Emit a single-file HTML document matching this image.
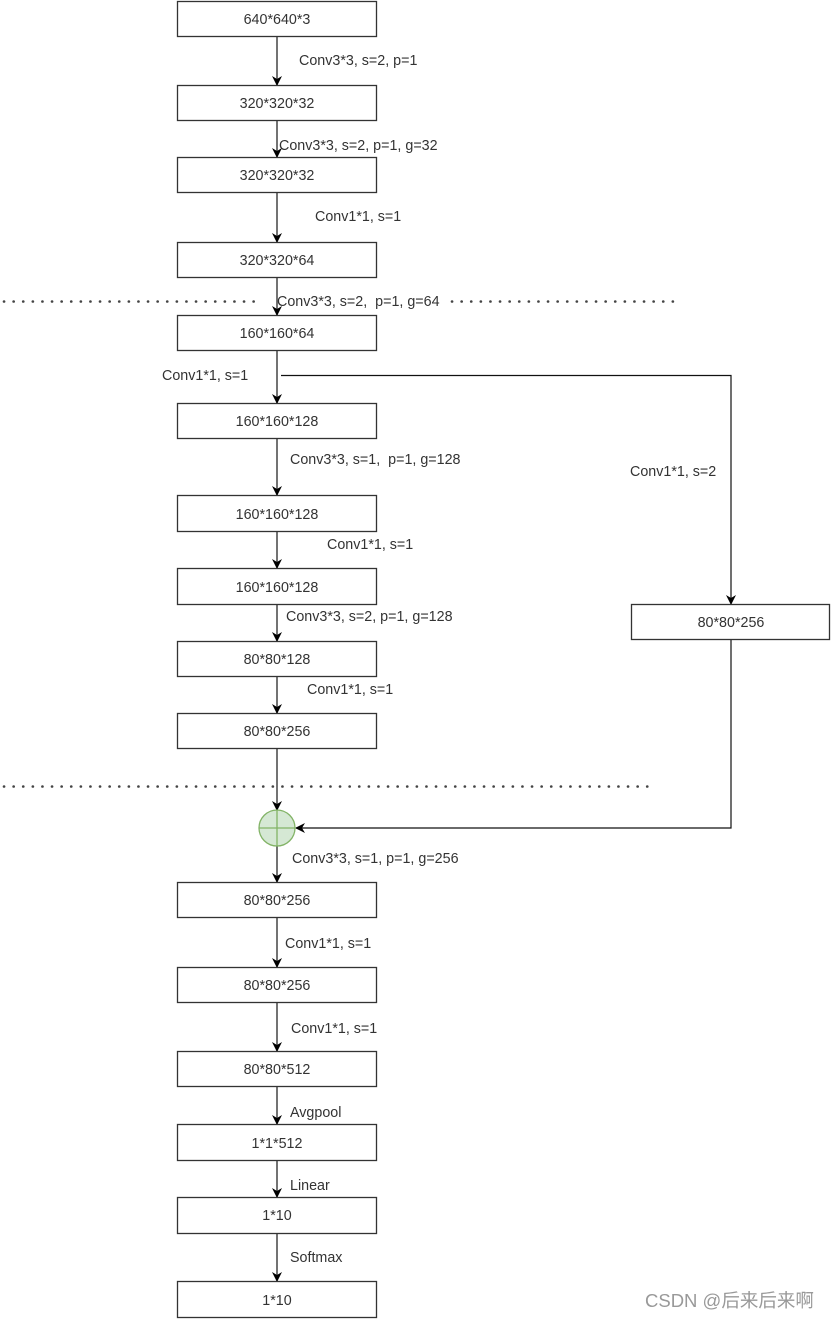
<!DOCTYPE html>
<html><head><meta charset="utf-8"><style>
html,body{margin:0;padding:0;background:#fff;}
svg{display:block;}
text{font-family:"Liberation Sans",Arial,sans-serif;font-size:14.3px;fill:#333;}
</style></head><body>
<svg width="831" height="1319" viewBox="0 0 831 1319" xmlns="http://www.w3.org/2000/svg">
<defs>
<marker id="a" markerWidth="10" markerHeight="10" refX="9" refY="5" orient="auto" markerUnits="userSpaceOnUse">
<path d="M0,0 L10,5 L0,10 L3,5 Z" fill="#000"/>
</marker>
</defs>
<g stroke="#444" stroke-width="2.6" stroke-linecap="round" stroke-dasharray="0.1 9.5" fill="none">
<line x1="4" y1="301.5" x2="262" y2="301.5"/>
<line x1="452" y1="301.5" x2="675" y2="301.5"/>
<line x1="4" y1="786.5" x2="655" y2="786.5"/>
</g>
<g stroke="#444" stroke-width="1.5" fill="none" marker-end="url(#a)">
<line x1="277" y1="37" x2="277" y2="85"/>
<line x1="277" y1="121" x2="277" y2="157"/>
<line x1="277" y1="193" x2="277" y2="242"/>
<line x1="277" y1="278" x2="277" y2="315"/>
<line x1="277" y1="351" x2="277" y2="403"/>
<line x1="277" y1="439" x2="277" y2="495"/>
<line x1="277" y1="532" x2="277" y2="568"/>
<line x1="277" y1="605" x2="277" y2="641"/>
<line x1="277" y1="677" x2="277" y2="713"/>
<line x1="277" y1="749" x2="277" y2="810"/>
<line x1="277" y1="846" x2="277" y2="882"/>
<line x1="277" y1="918" x2="277" y2="967"/>
<line x1="277" y1="1003" x2="277" y2="1051"/>
<line x1="277" y1="1087" x2="277" y2="1124"/>
<line x1="277" y1="1161" x2="277" y2="1197"/>
<line x1="277" y1="1234" x2="277" y2="1281"/>
<polyline points="281,375.5 731,375.5 731,604" stroke="#111" stroke-width="1.2"/>
<polyline points="731,640 731,828 296,828" stroke="#111" stroke-width="1.2"/>
</g>
<circle cx="277" cy="828" r="18" fill="#d5e8d4" stroke="#82b366" stroke-width="1.3"/>
<line x1="259" y1="828" x2="295" y2="828" stroke="#82b366" stroke-width="1.3"/>
<line x1="277" y1="810" x2="277" y2="846" stroke="#82b366" stroke-width="1.3"/>
<g fill="#fff" stroke="#333" stroke-width="1.3">
<rect x="177.5" y="1.5" width="199" height="35"/>
<rect x="177.5" y="85.5" width="199" height="35"/>
<rect x="177.5" y="157.5" width="199" height="35"/>
<rect x="177.5" y="242.5" width="199" height="35"/>
<rect x="177.5" y="315.5" width="199" height="35"/>
<rect x="177.5" y="403.5" width="199" height="35"/>
<rect x="177.5" y="495.5" width="199" height="36"/>
<rect x="177.5" y="568.5" width="199" height="36"/>
<rect x="177.5" y="641.5" width="199" height="35"/>
<rect x="177.5" y="713.5" width="199" height="35"/>
<rect x="177.5" y="882.5" width="199" height="35"/>
<rect x="177.5" y="967.5" width="199" height="35"/>
<rect x="177.5" y="1051.5" width="199" height="35"/>
<rect x="177.5" y="1124.5" width="199" height="36"/>
<rect x="177.5" y="1197.5" width="199" height="36"/>
<rect x="177.5" y="1281.5" width="199" height="36"/>
<rect x="631.5" y="604.5" width="198" height="35"/>
</g>
<g text-anchor="middle">
<text x="277" y="24">640*640*3</text>
<text x="277" y="108">320*320*32</text>
<text x="277" y="180">320*320*32</text>
<text x="277" y="265">320*320*64</text>
<text x="277" y="338">160*160*64</text>
<text x="277" y="426">160*160*128</text>
<text x="277" y="519">160*160*128</text>
<text x="277" y="592">160*160*128</text>
<text x="277" y="664">80*80*128</text>
<text x="277" y="736">80*80*256</text>
<text x="277" y="905">80*80*256</text>
<text x="277" y="990">80*80*256</text>
<text x="277" y="1074">80*80*512</text>
<text x="277" y="1148">1*1*512</text>
<text x="277" y="1220">1*10</text>
<text x="277" y="1305">1*10</text>
<text x="731" y="627">80*80*256</text>
</g>
<text x="299" y="65">Conv3*3, s=2, p=1</text>
<text x="279" y="150">Conv3*3, s=2, p=1, g=32</text>
<text x="315" y="221">Conv1*1, s=1</text>
<text x="277" y="306" xml:space="preserve">Conv3*3, s=2,  p=1, g=64</text>
<text x="162" y="380">Conv1*1, s=1</text>
<text x="290" y="464" xml:space="preserve">Conv3*3, s=1,  p=1, g=128</text>
<text x="630" y="476">Conv1*1, s=2</text>
<text x="327" y="549">Conv1*1, s=1</text>
<text x="286" y="621">Conv3*3, s=2, p=1, g=128</text>
<text x="307" y="694">Conv1*1, s=1</text>
<text x="292" y="863">Conv3*3, s=1, p=1, g=256</text>
<text x="285" y="948">Conv1*1, s=1</text>
<text x="291" y="1033">Conv1*1, s=1</text>
<text x="290" y="1117">Avgpool</text>
<text x="290" y="1190">Linear</text>
<text x="290" y="1262">Softmax</text>
<text x="645" y="1307" style="font-size:18.5px;fill:#999;font-family:'Liberation Sans','Noto Sans CJK SC',sans-serif;">CSDN @后来后来啊</text>
</svg>
</body></html>
